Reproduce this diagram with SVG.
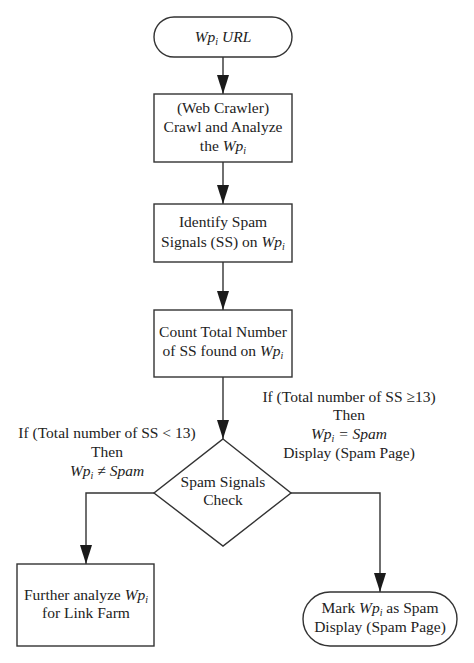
<svg xmlns="http://www.w3.org/2000/svg" width="474" height="663" viewBox="0 0 474 663">
<defs>
<marker id="arr" viewBox="0 0 19 12" refX="19" refY="6" markerWidth="19" markerHeight="12" markerUnits="userSpaceOnUse" orient="auto">
<path d="M0,0 L19,6 L0,12 Z" fill="#1a1a1a"/>
</marker>
<style>
.s{fill:#fff;stroke:#333;stroke-width:1.4}
.c{fill:none;stroke:#333;stroke-width:1.4}
text{font-family:"Liberation Serif","Times New Roman",serif;font-size:15.5px;fill:#222;text-anchor:middle}
.i{font-style:italic}
.sub{font-size:10px;font-style:italic}
</style>
</defs>
<rect width="474" height="663" fill="#fff"/>
<g id="connectors">
<path class="c" d="M223,57 V94" marker-end="url(#arr)"/>
<path class="c" d="M223,162 V204" marker-end="url(#arr)"/>
<path class="c" d="M223,262 V310" marker-end="url(#arr)"/>
<path class="c" d="M223,377 V439" marker-end="url(#arr)"/>
<path class="c" d="M154,493 H86 V564" marker-end="url(#arr)"/>
<path class="c" d="M291,493 H380 V592" marker-end="url(#arr)"/>
</g>
<g id="start">
<rect class="s" x="154" y="17" width="138" height="40" rx="20"/>
<text x="223" y="42"><tspan class="i">Wp</tspan><tspan class="sub" dy="3">i</tspan><tspan class="i" dy="-3"> URL</tspan></text>
</g>
<g id="crawl">
<rect class="s" x="154" y="94" width="138" height="68"/>
<text x="223" y="113">(Web Crawler)</text>
<text x="223" y="132">Crawl and Analyze</text>
<text x="223" y="151">the <tspan class="i">Wp</tspan><tspan class="sub" dy="3">i</tspan></text>
</g>
<g id="identify">
<rect class="s" x="154" y="204" width="138" height="58"/>
<text x="223" y="227">Identify Spam</text>
<text x="223" y="247">Signals (SS) on <tspan class="i">Wp</tspan><tspan class="sub" dy="3">i</tspan></text>
</g>
<g id="count">
<rect class="s" x="154" y="310" width="138" height="67"/>
<text x="223" y="337">Count Total Number</text>
<text x="223" y="356">of SS found on <tspan class="i">Wp</tspan><tspan class="sub" dy="3">i</tspan></text>
</g>
<g id="check">
<polygon class="s" points="223,439 291,493 223,546 154,493"/>
<text x="223" y="487">Spam Signals</text>
<text x="223" y="505">Check</text>
</g>
<g id="label-no">
<text x="107" y="438">If (Total number of SS &lt; 13)</text>
<text x="107" y="457">Then</text>
<text x="107" y="476"><tspan class="i">Wp</tspan><tspan class="sub" dy="3">i</tspan><tspan class="i" dy="-3"> ≠ Spam</tspan></text>
</g>
<g id="label-yes">
<text x="349" y="402">If (Total number of SS ≥13)</text>
<text x="349" y="420">Then</text>
<text x="349" y="439"><tspan class="i">Wp</tspan><tspan class="sub" dy="3">i</tspan><tspan class="i" dy="-3"> = Spam</tspan></text>
<text x="349" y="458">Display (Spam Page)</text>
</g>
<g id="further">
<rect class="s" x="17" y="564" width="137" height="82"/>
<text x="86" y="600">Further analyze <tspan class="i">Wp</tspan><tspan class="sub" dy="3">i</tspan></text>
<text x="86" y="618">for Link Farm</text>
</g>
<g id="mark">
<rect class="s" x="303" y="592" width="154" height="54" rx="27"/>
<text x="380" y="613">Mark <tspan class="i">Wp</tspan><tspan class="sub" dy="3">i</tspan><tspan dy="-3"> as Spam</tspan></text>
<text x="380" y="632">Display (Spam Page)</text>
</g>
</svg>
